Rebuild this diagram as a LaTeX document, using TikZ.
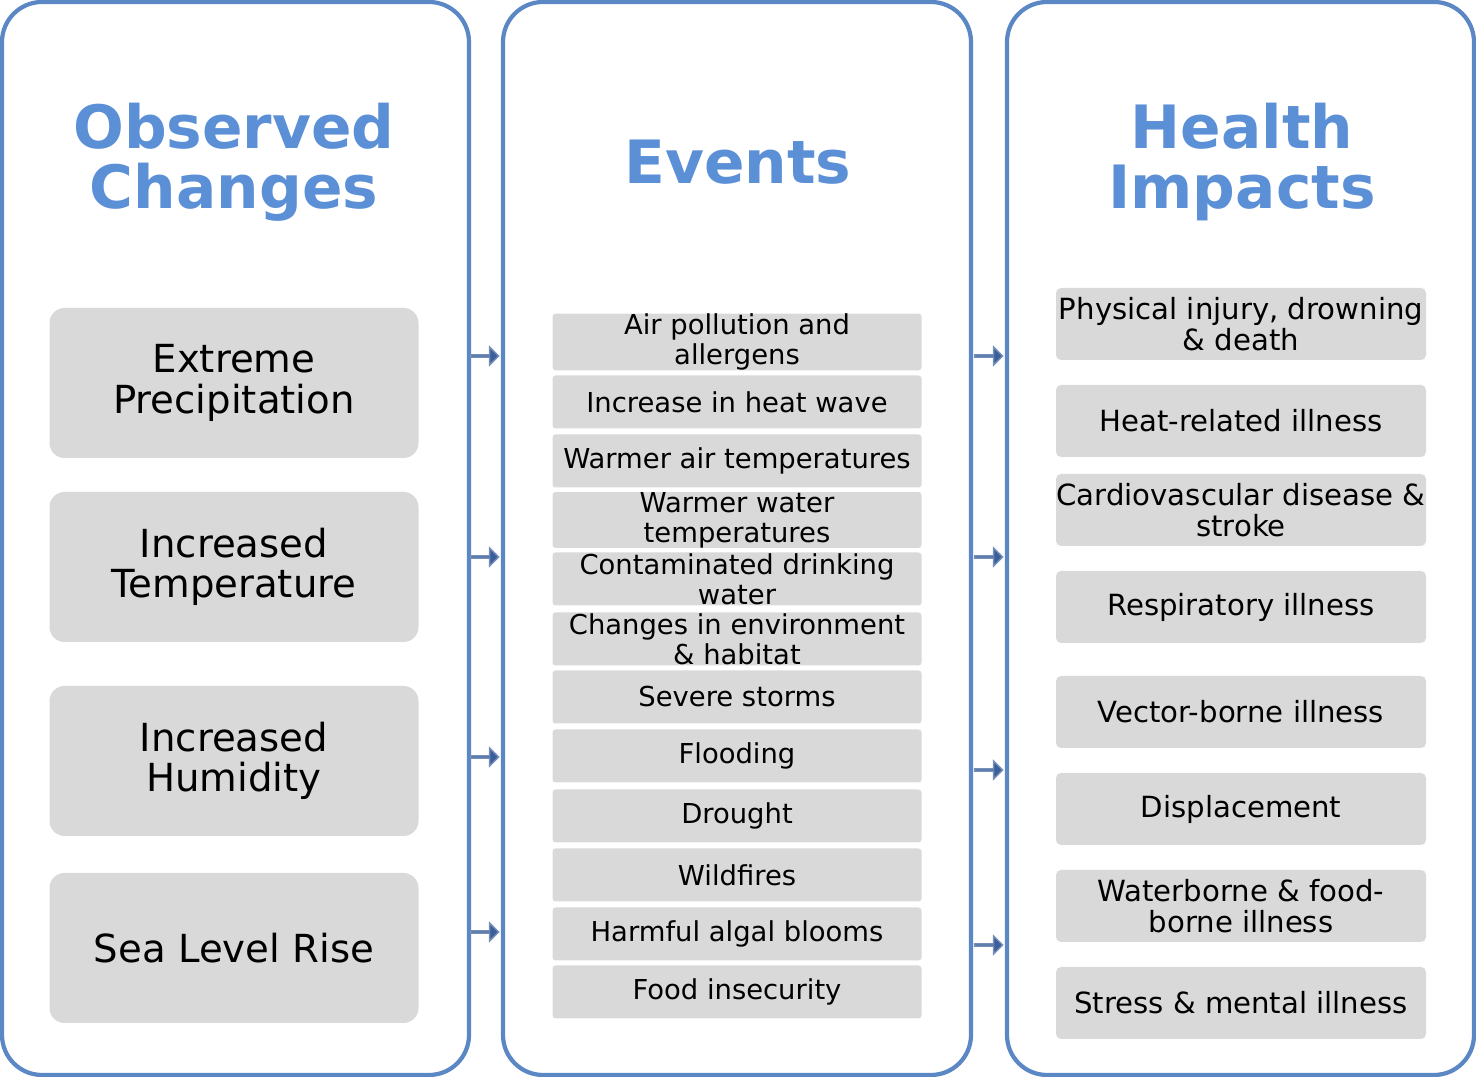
\documentclass[tikz,border=0pt]{standalone}
\usepackage{fontspec}
\setmainfont{DejaVu Sans}
\usetikzlibrary{shapes.arrows}
\definecolor{paneline}{HTML}{5B87C5}
\definecolor{titleblue}{HTML}{5B8FD6}
\definecolor{boxgray}{HTML}{D9D9D9}
\definecolor{arrowblue}{HTML}{3A5F9A}

\begin{document}
\begin{tikzpicture}[x=0.1mm, y=-0.1mm,
  panel/.style={draw=paneline, line width=1.2pt, rounded corners=4mm},
  title/.style={text=titleblue, font=\bfseries\fontsize{17}{17}\selectfont, align=center},
  bigbox/.style={fill=boxgray, rounded corners=1.5mm, minimum width=36.9mm, minimum height=15mm, align=center, font=\fontsize{11}{11.5}\selectfont},
  evbox/.style={fill=boxgray, rounded corners=0.3mm, minimum width=36.9mm, minimum height=5.3mm, inner sep=0pt, align=center, font=\fontsize{7.8}{8.6}\selectfont},
  hibox/.style={fill=boxgray, rounded corners=0.5mm, minimum width=37mm, minimum height=7.2mm, inner sep=0pt, align=center, font=\fontsize{8.3}{8.9}\selectfont},
  blockarrow/.style={single arrow, fill=arrowblue, draw=arrowblue!70!white, line width=0.4pt, minimum height=2.8mm, minimum width=1.8mm, single arrow head extend=0.5mm, inner sep=0pt}]

  \useasboundingbox (0,0) rectangle (1476,1077);

  % panels
  \draw[panel] (2,2) rectangle (469,1075);
  \draw[panel] (503,2) rectangle (971,1075);
  \draw[panel] (1007,2) rectangle (1474,1075);

  \node[title] (obstitle) at (234,162) {Observed\\Changes};
  \node[title] (evtitle) at (738,162) {Events};
  \node[title] (hititle) at (1242,162) {Health\\Impacts};

  % observed changes
  \node[bigbox] (precip) at (234,383) {Extreme\\Precipitation};
  \node[bigbox] (temp) at (234,567) {Increased\\Temperature};
  \node[bigbox] (humid) at (234,761) {Increased\\Humidity};
  \node[bigbox] (sea) at (234,948) {Sea Level Rise};

  % events
  \foreach \y/\txt [count=\i] in {
    342/{Air pollution and\\allergens},
    402/{Increase in heat wave},
    461/{Warmer air temperatures},
    520/{Warmer water\\temperatures},
    579/{Contaminated drinking\\water},
    639/{Changes in environment\\\& habitat},
    697/{Severe storms},
    756/{Flooding},
    816/{Drought},
    875/{Wildfires},
    934/{Harmful algal blooms},
    992/{Food insecurity}}
    \node[evbox] (ev\i) at (737,\y) {\txt};

  % health impacts
  \foreach \y/\txt [count=\i] in {
    324/{Physical injury, drowning\\\& death},
    421/{Heat-related illness},
    510/{Cardiovascular disease \&\\stroke},
    607/{Respiratory illness},
    712/{Vector-borne illness},
    809/{Displacement},
    906/{Waterborne \& food-\\borne illness},
    1003/{Stress \& mental illness}}
    \node[hibox] (hi\i) at (1241,\y) {\txt};

  % arrows
  \foreach \y [count=\i] in {356,557,757,932}
    \node[blockarrow] (la\i) at (484,\y) {};
  \foreach \y [count=\i] in {356,557,770,945}
    \node[blockarrow] (ra\i) at (988,\y) {};
\end{tikzpicture}
\end{document}
